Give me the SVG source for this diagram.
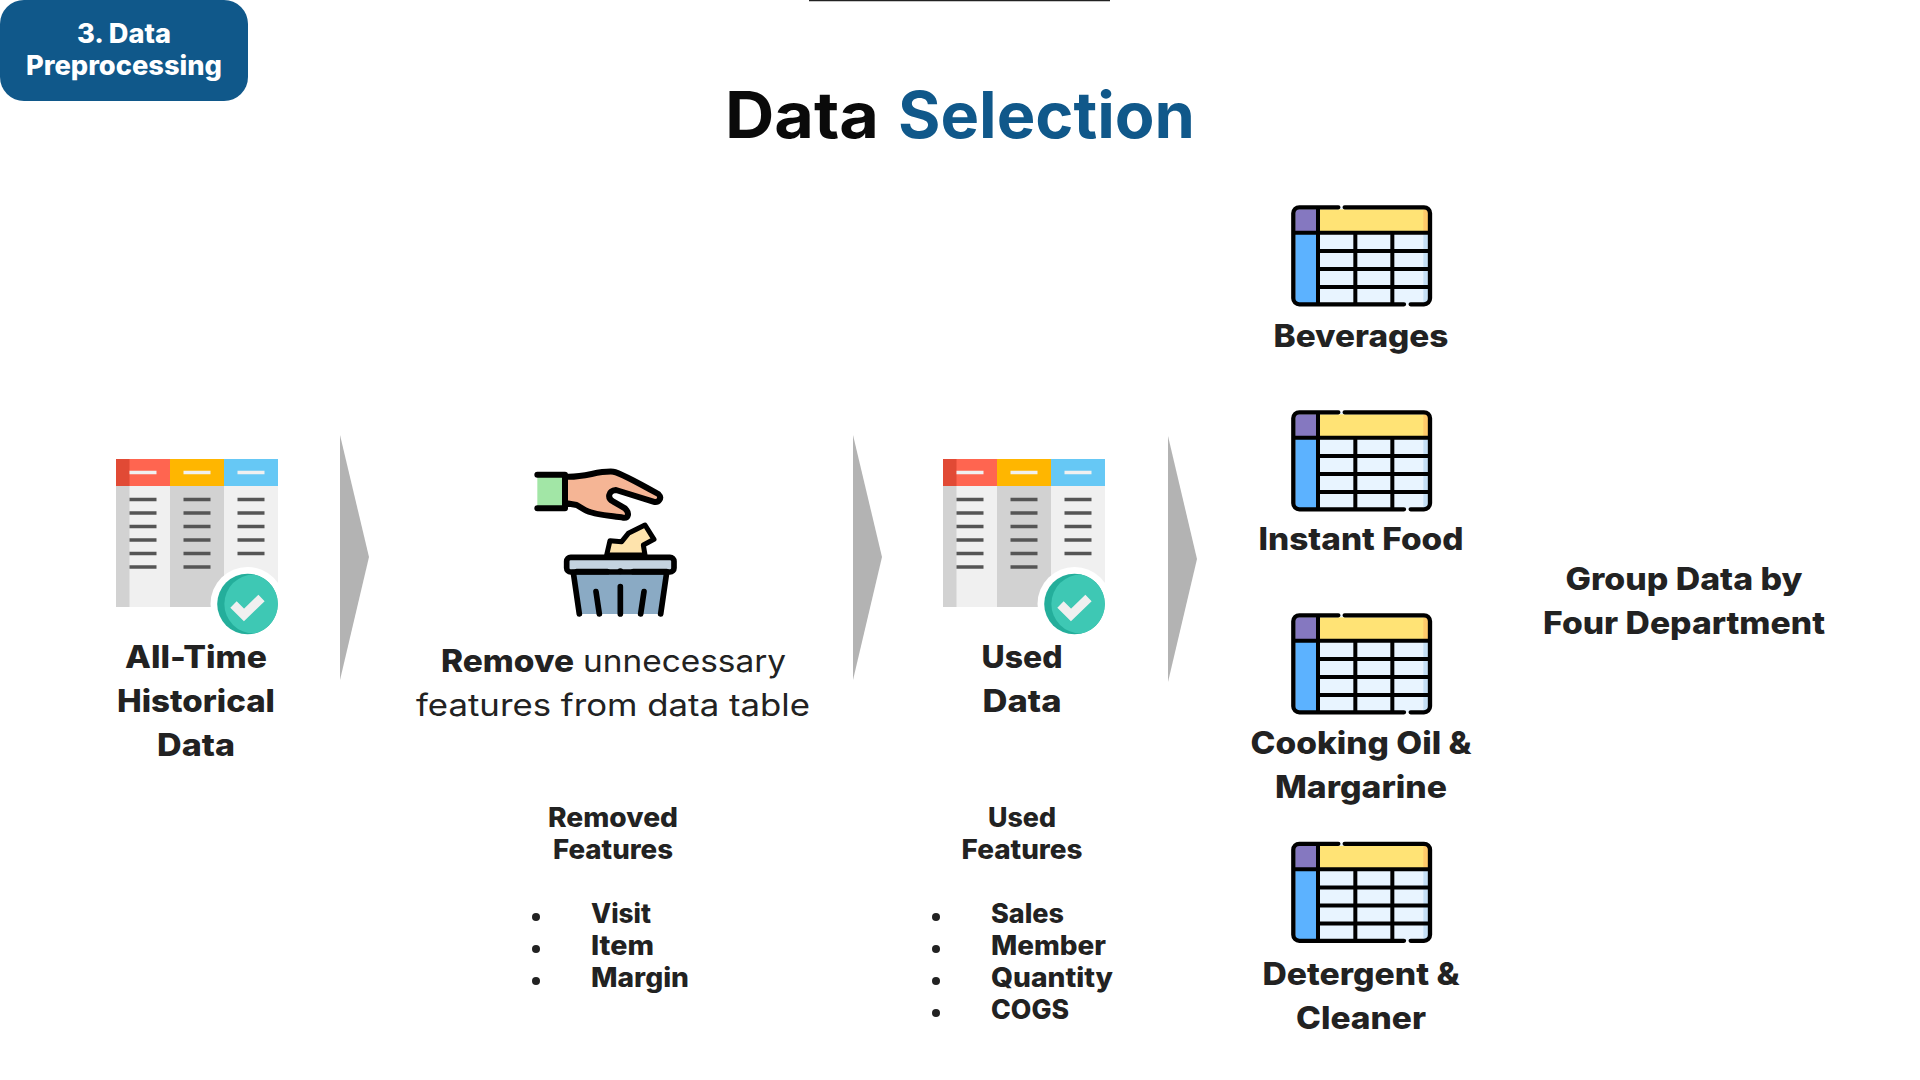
<svg xmlns="http://www.w3.org/2000/svg" width="1920" height="1080" viewBox="0 0 1920 1080">
<style>
text{font-family:Inter,"Liberation Sans",sans-serif;fill:#222;font-weight:800;text-anchor:middle}
.l{font-size:31px}.s{font-size:26.5px}.st{text-anchor:start}
.w{fill:#fff;font-size:26.5px}
.ttl{font-size:64px;font-weight:700;text-anchor:start;fill:#0a0a0a}
.reg{font-size:31px;font-weight:400}
.k{fill:none;stroke:#000;stroke-linecap:round;stroke-linejoin:round}
.ln{stroke:#555;stroke-width:3.4}
.hl{stroke:#f0f0f0;stroke-width:3.4}
.arr{fill:#b3b3b3}
</style>
<defs>
<g id="sheet">
<rect x="116" y="486" width="54" height="121" fill="#f0f0f0"/>
<rect x="170" y="486" width="54" height="121" fill="#d2d2d2"/>
<rect x="224" y="486" width="54" height="121" fill="#f0f0f0"/>
<rect x="116" y="486" width="13.500" height="121" fill="#d2d2d2"/>
<rect x="116" y="459" width="54" height="27" fill="#ff6550"/>
<rect x="116" y="459" width="13.500" height="27" fill="#e14a35"/>
<rect x="170" y="459" width="54" height="27" fill="#ffb600"/>
<rect x="224" y="459" width="54" height="27" fill="#66c8f5"/>
<path class="hl" d="M129.500 472.500h27M183.500 472.500h27M237.500 472.500h27"/>
<path class="ln" d="M129.500 499.500h27M129.500 513h27M129.500 526.500h27M129.500 540h27M129.500 553.500h27M129.500 567h27M183.500 499.500h27M183.500 513h27M183.500 526.500h27M183.500 540h27M183.500 553.500h27M183.500 567h27M237.500 499.500h27M237.500 513h27M237.500 526.500h27M237.500 540h27M237.500 553.500h27"/>
<circle cx="247.500" cy="604" r="37" fill="#fff"/>
<circle cx="247.500" cy="604" r="30.300" fill="#24ae9b"/>
<path d="M254 574.400A30.300 30.300 0 0 1 254 633.600A29.600 29.600 0 1 1 254 574.400Z" fill="#3ec8b4"/>
<path d="M233.500 604.500L244 615L261.500 598" fill="none" stroke="#f0f0f0" stroke-width="9"/>
</g>
<g id="dept" transform="translate(1270 190) scale(.33333)">
<rect x="70" y="52" width="410" height="291" rx="18" fill="#e8f4ff"/>
<rect x="76" y="58" width="68" height="70" fill="#8578c0"/>
<rect x="76" y="128" width="68" height="212" fill="#5cb2ff"/>
<rect x="144" y="58" width="330" height="70" fill="#ffe375"/>
<rect x="460" y="58" width="14" height="66" fill="#ffca6a"/>
<rect x="460" y="132" width="14" height="208" fill="#c5dff5"/>
<path d="M205 52H88a18 18 0 0 0-18 18V325a18 18 0 0 0 18 18H402M422 343H462a18 18 0 0 0 18-18V70a18 18 0 0 0-18-18H224" fill="none" stroke="#000" stroke-width="13" stroke-linecap="round"/>
<path d="M144 52V343M70 128H480M144 183H480M144 237H480M144 291H480M256 128V343M367 128V343" fill="none" stroke="#000" stroke-width="12"/>
</g>
</defs>

<g id="connectors">
<path class="arr" d="M340 435L369 557L340 680Z"/>
<path class="arr" d="M853 435L882 557L853 680Z"/>
<path class="arr" d="M1168 436L1197 559L1168 682Z"/>
</g>

<line x1="809" y1="0.500" x2="1110" y2="0.500" stroke="#222" stroke-width="1.500"/>

<g id="badge">
<rect x="0" y="0" width="248" height="101" rx="24" fill="#10588a"/>
<text class="w" x="124" y="43" textLength="94" lengthAdjust="spacingAndGlyphs">3. Data</text>
<text class="w" x="124" y="75" textLength="196" lengthAdjust="spacingAndGlyphs">Preprocessing</text>
</g>

<g id="title">
<text class="ttl" x="725" y="138" textLength="154" lengthAdjust="spacingAndGlyphs">Data</text>
<text class="ttl" x="898" y="138" textLength="297" lengthAdjust="spacingAndGlyphs" style="fill:#10588a">Selection</text>
</g>

<g id="node-all-time">
<use href="#sheet"/>
<text class="l" x="196" y="668" textLength="142" lengthAdjust="spacingAndGlyphs">All-Time</text>
<text class="l" x="196" y="712" textLength="158" lengthAdjust="spacingAndGlyphs">Historical</text>
<text class="l" x="196" y="756" textLength="78" lengthAdjust="spacingAndGlyphs">Data</text>
</g>

<g id="node-remove">
<g transform="translate(510 450) scale(.33333)">
<path d="M82 75H165V175H82Z" fill="#a2e6a6"/>
<path d="M170 80C230 82 260 62 310 65C330 68 420 118 445 132C458 145 445 160 430 155L318 120C295 122 290 145 310 155L345 175C360 190 355 205 340 203C300 197 250 195 225 180L200 165L170 160Z" fill="#f5b595"/>
<path class="k" stroke-width="18" d="M82 74H165V175H82M170 80C230 82 260 62 310 65C330 68 420 118 445 132C458 145 445 160 430 155L318 120C295 122 290 145 310 155L345 175C360 190 355 205 340 203C300 197 250 195 225 180L200 165L170 160"/>
<path d="M290 315L300 272L335 275L355 250L405 225L432 268L400 285L405 315Z" fill="#fee3ac" stroke="#000" stroke-width="15" stroke-linejoin="round"/>
<path d="M190 370H470L450 492H210Z" fill="#8aaac4"/>
<rect x="170" y="322" width="322" height="44" rx="12" fill="#c4d3e0" stroke="#000" stroke-width="17"/>
<path class="k" stroke-width="17" d="M190 368L208 492M470 368L452 492M258 425L268 492M402 425L392 492M331 410V492M200 365H292M370 365H470"/>
<circle cx="331" cy="364" r="9" fill="#000"/>
</g>
<text class="reg" x="441" y="672" style="text-anchor:start;font-weight:800" textLength="133" lengthAdjust="spacingAndGlyphs">Remove</text>
<text class="reg st" x="583" y="672" textLength="203" lengthAdjust="spacingAndGlyphs">unnecessary</text>
<text class="reg" x="613" y="716" textLength="394" lengthAdjust="spacingAndGlyphs">features from data table</text>
<text class="s" x="613" y="827" textLength="130" lengthAdjust="spacingAndGlyphs">Removed</text>
<text class="s" x="613" y="859" textLength="120" lengthAdjust="spacingAndGlyphs">Features</text>
<circle cx="536" cy="917" r="4" fill="#222"/><circle cx="536" cy="949" r="4" fill="#222"/><circle cx="536" cy="981" r="4" fill="#222"/>
<text class="s st" x="591" y="923" textLength="60" lengthAdjust="spacingAndGlyphs">Visit</text>
<text class="s st" x="591" y="955" textLength="63" lengthAdjust="spacingAndGlyphs">Item</text>
<text class="s st" x="591" y="987" textLength="98" lengthAdjust="spacingAndGlyphs">Margin</text>
</g>

<g id="node-used">
<use href="#sheet" x="827"/>
<text class="l" x="1022" y="668" textLength="81" lengthAdjust="spacingAndGlyphs">Used</text>
<text class="l" x="1022" y="712" textLength="79" lengthAdjust="spacingAndGlyphs">Data</text>
<text class="s" x="1022" y="827" textLength="68" lengthAdjust="spacingAndGlyphs">Used</text>
<text class="s" x="1022" y="859" textLength="121" lengthAdjust="spacingAndGlyphs">Features</text>
<circle cx="936" cy="917" r="4" fill="#222"/><circle cx="936" cy="949" r="4" fill="#222"/><circle cx="936" cy="981" r="4" fill="#222"/><circle cx="936" cy="1013" r="4" fill="#222"/>
<text class="s st" x="991" y="923" textLength="73" lengthAdjust="spacingAndGlyphs">Sales</text>
<text class="s st" x="991" y="955" textLength="115" lengthAdjust="spacingAndGlyphs">Member</text>
<text class="s st" x="991" y="987" textLength="122" lengthAdjust="spacingAndGlyphs">Quantity</text>
<text class="s st" x="991" y="1019" textLength="78" lengthAdjust="spacingAndGlyphs">COGS</text>
</g>

<g id="node-beverages">
<use href="#dept"/>
<text class="l" x="1361" y="347" textLength="175" lengthAdjust="spacingAndGlyphs">Beverages</text>
</g>
<g id="node-instant-food">
<use href="#dept" y="205"/>
<text class="l" x="1361" y="550" textLength="205" lengthAdjust="spacingAndGlyphs">Instant Food</text>
</g>
<g id="node-cooking-oil">
<use href="#dept" y="408"/>
<text class="l" x="1361" y="754" textLength="221" lengthAdjust="spacingAndGlyphs">Cooking Oil &amp;</text>
<text class="l" x="1361" y="798" textLength="172" lengthAdjust="spacingAndGlyphs">Margarine</text>
</g>
<g id="node-detergent">
<use href="#dept" y="636.500"/>
<text class="l" x="1361" y="985" textLength="197" lengthAdjust="spacingAndGlyphs">Detergent &amp;</text>
<text class="l" x="1361" y="1029" textLength="130" lengthAdjust="spacingAndGlyphs">Cleaner</text>
</g>

<g id="node-group-note">
<text class="l" x="1684" y="590" textLength="237" lengthAdjust="spacingAndGlyphs">Group Data by</text>
<text class="l" x="1684" y="634" textLength="282" lengthAdjust="spacingAndGlyphs">Four Department</text>
</g>
</svg>
